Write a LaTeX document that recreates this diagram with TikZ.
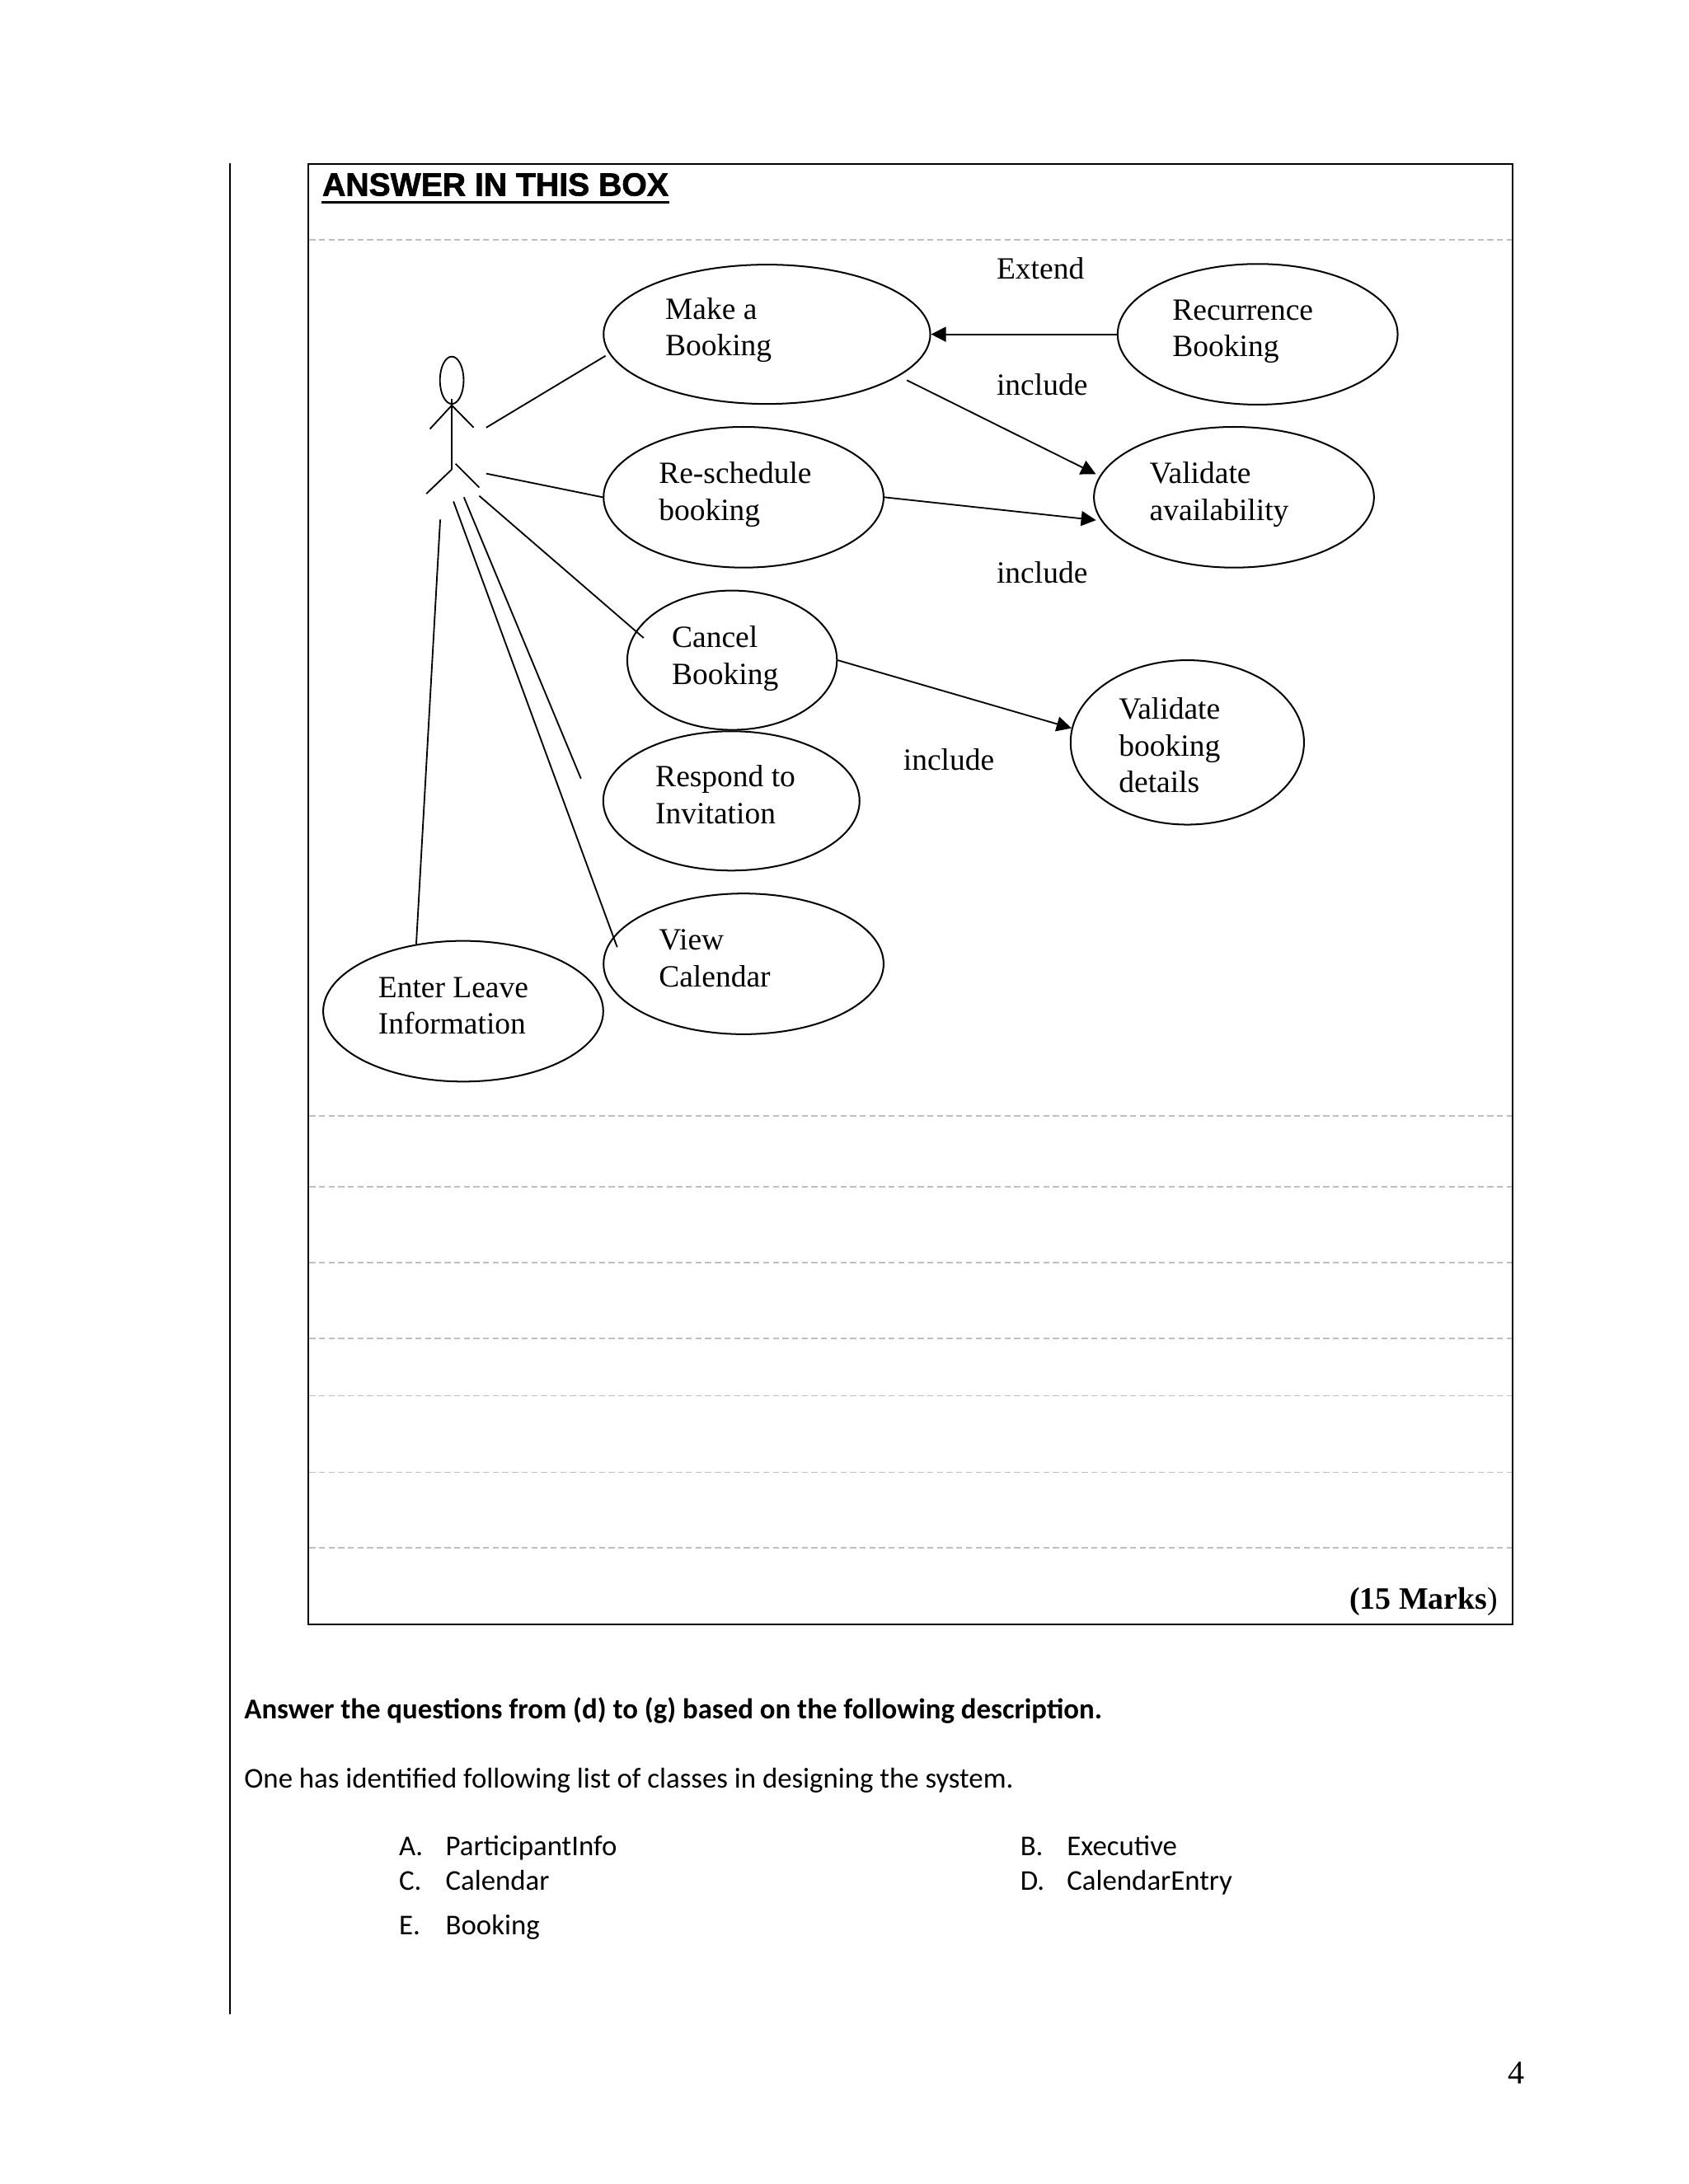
\documentclass[tikz,border=0pt]{standalone}
\usepackage{fontspec}
\setmainfont{Liberation Serif}
\newfontfamily\calibrifont{Carlito}
\newfontfamily\boxfont[FakeBold=1.6]{Liberation Sans Bold}
\usetikzlibrary{shapes.geometric,arrows.meta}
\newcommand{\liftby}[1]{\rule[-#1]{0pt}{#1}}
\begin{document}
\begin{tikzpicture}[x=0.50495pt,y=-0.50495pt]
      \tikzstyle{every node} = [inner sep = 0pt]
      \tikzstyle{usecase} = [draw, ellipse, line width=0.6pt, align=flush left, font=\fontsize{11.2}{13.3}\selectfont]
      \tikzstyle{wide} = [minimum width=101.5pt, minimum height=51pt]
      \tikzstyle{stereotype} = [anchor=base west, font=\fontsize{11.2}{13.3}\selectfont]
      \tikzstyle{pagetext} = [anchor=base west, font=\calibrifont\fontsize{10.4}{13}\selectfont]
      \tikzstyle{answerline} = [black!25, dashed, line width=0.5pt, dash pattern=on 2.2pt off 1.3pt]
      \tikzstyle{assoc} = [line width=0.55pt]
      \tikzstyle{depend} = [line width=0.55pt, -{Triangle[length=5.4pt,width=5.4pt]}]

      \useasboundingbox (0,0) rectangle (1212,1568);
      \fill[white] (0,0) rectangle (1212,1568);

      \draw[line width=0.6pt] (165,117) -- (165,1446);
      \foreach \y in {172,801,852,906.5,961,1002,1057,1111}{
          \draw[answerline] (222,\y) -- (1085,\y);
      }
      \draw[line width=0.6pt] (221,117.5) rectangle (1085.5,1166);

      \node[anchor=base west, font=\boxfont\fontsize{11.7}{13}\selectfont] (title) at (231,140.5) {ANSWER IN THIS BOX};
      \draw[line width=0.9pt] ([yshift=-2.2pt]title.south west) -- ([yshift=-2.2pt]title.south east);

      \node[usecase, minimum width=118.4pt, minimum height=50.5pt, text width=73.7pt] (make) at (550.5,240) {Make a\\Booking\liftby{5.5pt}};
      \node[usecase, wide, text width=61.4pt] (reschedule) at (533.75,357) {Re-schedule\\booking\liftby{4.5pt}};
      \node[usecase, minimum width=76pt, minimum height=50.5pt, text width=43.6pt] (cancel) at (525.5,474) {Cancel\\Booking\liftby{3.5pt}};
      \node[usecase, minimum width=92.9pt, minimum height=50.5pt, text width=55pt] (respond) at (525,575) {Respond to\\Invitation\liftby{4.5pt}};
      \node[usecase, wide, text width=61.4pt] (view) at (533.75,692) {View\\Calendar\liftby{4pt}};
      \node[usecase, wide, text width=61.6pt] (leave) at (332.5,726) {Enter Leave\\Information\liftby{4pt}};
      \node[usecase, wide, text width=61.7pt] (recurrence) at (902.75,240) {Recurrence\\Booking\liftby{4.5pt}};
      \node[usecase, wide, text width=61.1pt] (availability) at (885.75,357) {Validate\\availability\liftby{4.5pt}};
      \node[usecase, minimum width=84.6pt, minimum height=59.6pt, text width=49.6pt] (details) at (852.25,533) {\rule{0pt}{10pt}Validate\\booking\\details};

      \node[stereotype] (extend) at (715,200) {Extend};
      \node[stereotype] (include1) at (715,284) {include};
      \node[stereotype] (include2) at (715,418.5) {include};
      \node[stereotype] (include3) at (648,553) {include};

      \draw[assoc] (324.3,273) ellipse (8.5 and 17);
      \draw[assoc] (324.3,286.6) -- (324.3,337);
      \draw[assoc] (308.6,308) -- (324.3,291) -- (340,307);
      \draw[assoc] (306,354.5) -- (324.3,337);
      \draw[assoc] (327,333) -- (344,350);

      \coordinate (actormake) at (349,307);
      \coordinate (actorreschedule) at (349,340);
      \coordinate (actorcancel) at (344,356);
      \coordinate (actorrespond) at (333,357);
      \coordinate (actorview) at (325.5,360);
      \coordinate (actorleave) at (316,373);
      \coordinate (cancelend) at (462,458);
      \coordinate (respondend) at (417,559);
      \coordinate (viewend) at (443,680);
      \coordinate (makestart) at (651,273);

      \path[assoc]
      (actormake) edge[shorten >=1.5pt] (make.187.3)
      (actorreschedule) edge (reschedule.west)
      (actorcancel) edge (cancelend)
      (actorrespond) edge (respondend)
      (actorview) edge (viewend)
      (actorleave) edge (leave.125);

      \path[depend]
      (recurrence.west) edge (make.east)
      (makestart) edge[shorten >=1.5pt] (availability.171)
      (reschedule.east) edge[shorten >=1.8pt] (availability.190.5)
      (cancel.east) edge (details.173.8);

      \node[anchor=base east, font=\fontsize{11.3}{14}\selectfont] (marks) at (1075.5,1155) {\textbf{(15 Marks})};

      \node[pagetext, font=\calibrifont\bfseries\fontsize{10.4}{13}\selectfont] (question) at (175,1234) {Answer the questions from (d) to (g) based on the following description.};
      \node[pagetext] (classes) at (175,1283.5) {One has identified following list of classes in designing the system.};

      \node[pagetext] (letterA) at (286,1332) {A.};
      \node[pagetext] (nameA) at (319.5,1332) {ParticipantInfo};
      \node[pagetext] (letterC) at (286,1357) {C.};
      \node[pagetext] (nameC) at (319.5,1357) {Calendar};
      \node[pagetext] (letterE) at (286,1389) {E.};
      \node[pagetext] (nameE) at (319.5,1389) {Booking};
      \node[pagetext] (letterB) at (732,1332) {B.};
      \node[pagetext] (nameB) at (765.5,1332) {Executive};
      \node[pagetext] (letterD) at (732,1357) {D.};
      \node[pagetext] (nameD) at (765.5,1357) {CalendarEntry};

      \node[anchor=base east, font=\fontsize{12}{14}\selectfont] (pagenumber) at (1095,1496) {4};
    \end{tikzpicture}
\end{document}
